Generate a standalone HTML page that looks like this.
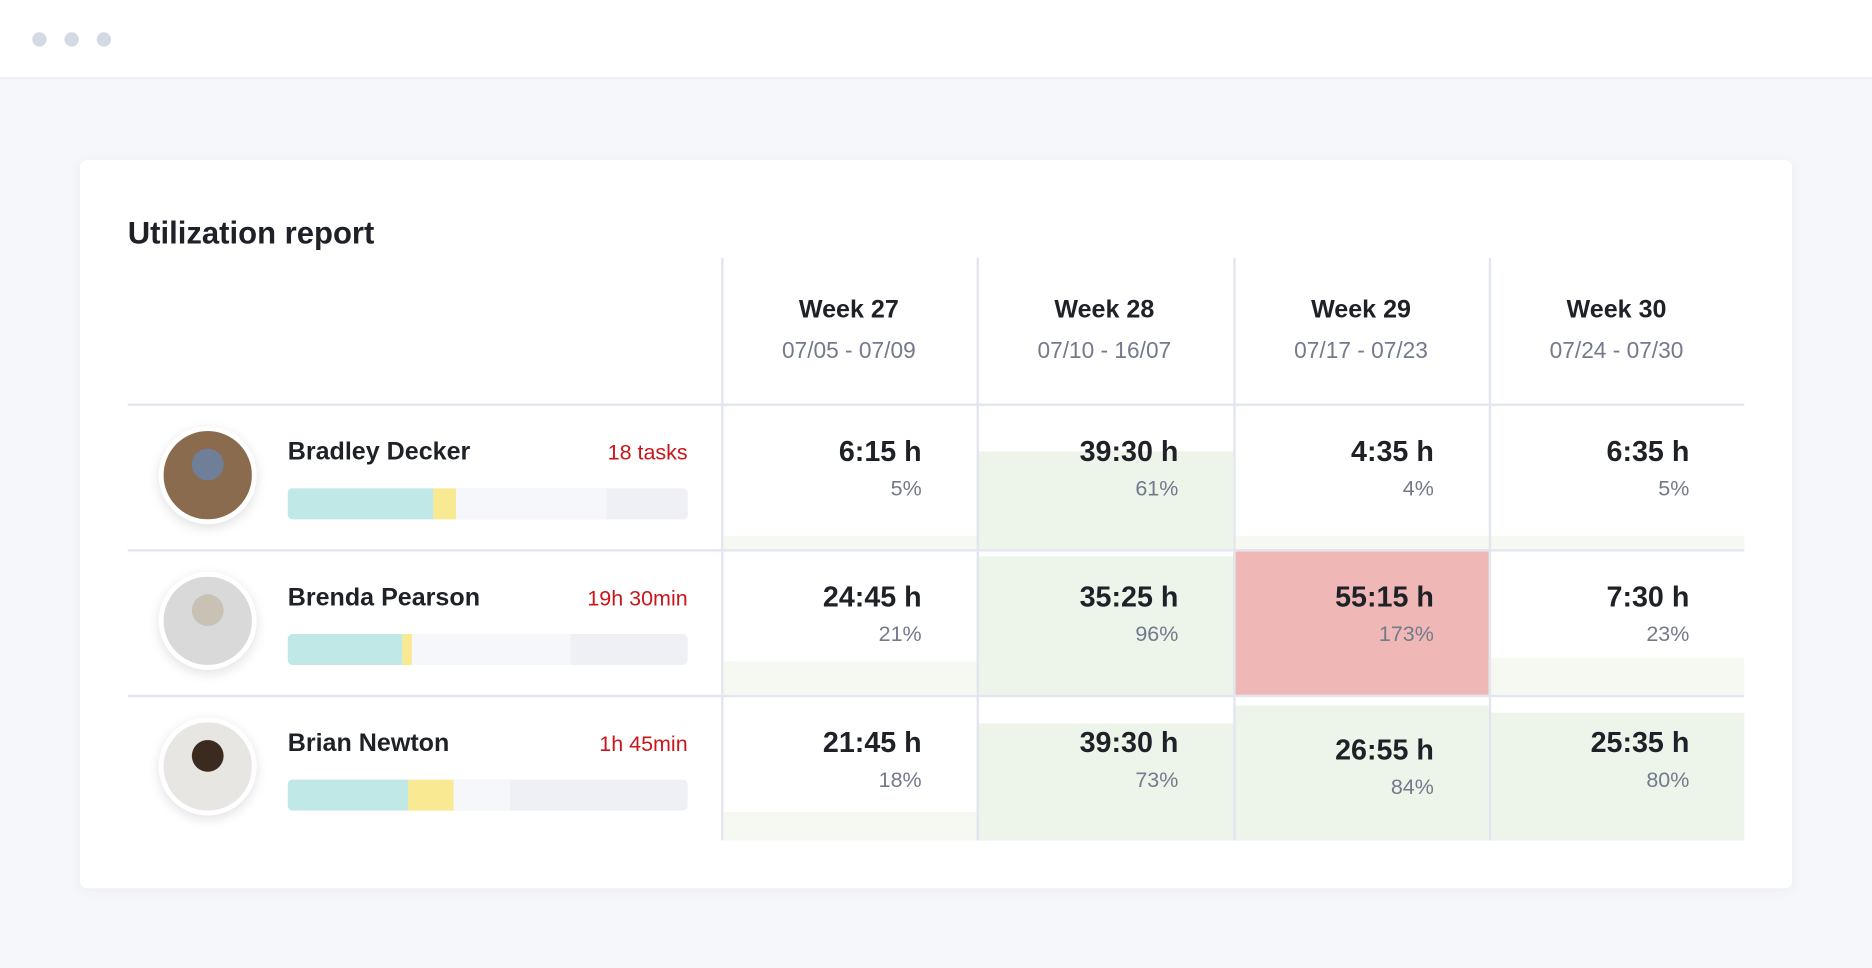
<!DOCTYPE html>
<html><head><meta charset="utf-8">
<style>
html,body{margin:0;padding:0;width:1872px;height:968px;overflow:hidden;background:#f6f7fb;font-family:"Liberation Sans",sans-serif;}
#stage{position:absolute;left:0;top:0;width:1568px;height:811px;transform-origin:0 0;transform:scale(1.19388);}
.abs{position:absolute;}
.topbar{left:0;top:0;width:1568px;height:65px;background:#fff;border-bottom:1.5px solid #e3e6ee;}
.dot{width:12px;height:12px;border-radius:50%;background:#d5d9e3;top:27px;}
.card{left:67px;top:134px;width:1434px;height:610px;background:#fff;border-radius:6px;box-shadow:0 2px 10px rgba(40,50,80,0.05);}
.title{left:107px;top:180px;font-size:26px;font-weight:bold;color:#1e2128;}
.vline{width:1.5px;background:#e3e6ee;}
.hline{height:1.5px;background:#e3e6ee;}
.wk{font-size:21px;font-weight:bold;color:#1e2128;text-align:center;width:214px;}
.dt{font-size:19px;color:#737a8c;text-align:center;width:214px;}
.name{font-size:21px;font-weight:bold;color:#1e2128;}
.extra{font-size:18px;color:#c8161b;text-align:right;width:200px;}
.hrs{font-size:24px;font-weight:bold;color:#1e2128;text-align:right;width:200px;}
.pct{font-size:18px;color:#737a8c;text-align:right;width:200px;}
.avatar{width:74px;height:74px;border-radius:50%;border:4px solid #fff;box-shadow:0 3px 10px rgba(0,0,0,0.12);overflow:hidden;}
</style></head>
<body>
<div id="stage">
  <div class="abs topbar"></div>
  <div class="abs dot" style="left:27px"></div>
  <div class="abs dot" style="left:54px"></div>
  <div class="abs dot" style="left:81px"></div>
  <div class="abs card"></div>
  <div class="abs title">Utilization report</div>
  <div id="table"></div>
</div>
<script>
const weeks = ["Week 27","Week 28","Week 29","Week 30"];
const dateRanges = ["07/05 - 07/09","07/10 - 16/07","07/17 - 07/23","07/24 - 07/30"];
const people = ["Bradley Decker","Brenda Pearson","Brian Newton"];
const extras = ["18 tasks","19h 30min","1h 45min"];
const hours = [["6:15 h","39:30 h","4:35 h","6:35 h"],["24:45 h","35:25 h","55:15 h","7:30 h"],["21:45 h","39:30 h","26:55 h","25:35 h"]];
const pcts = [[5,61,4,5],[21,96,173,23],[18,73,84,80]];
const tealFrac = [0.364,0.287,0.301];
const yellowFrac = [0.057,0.024,0.113];
const lightFrac = [0.376,0.397,0.140];
const avatarColors = [["#8a6b4e","#6f7f9a"],["#d9d9d9","#c9c1b3"],["#e8e6e3","#3a2a20"]];

const S = document.getElementById('stage');
const colX = [604,818,1033,1247,1461];
const rowY = [338,460,582,704];
function mk(cls, css, txt){const d=document.createElement('div');d.className='abs '+cls;Object.assign(d.style,css);if(txt!==undefined)d.textContent=txt;S.appendChild(d);return d;}

for(let r=0;r<people.length;r++){
  for(let c=0;c<weeks.length;c++){
    const p=pcts[r][c], h=rowY[r+1]-rowY[r];
    let fh, col;
    if(p>100){fh=h;col='#efb8b6';}
    else{fh=Math.min(h-6,Math.max(11,h*p/100*1.1));col=p<30?'#f5f9f2':'#edf4e9';}
    const f=mk('',{left:colX[c]+'px',top:(rowY[r+1]-fh)+'px',width:(colX[c+1]-colX[c])+'px',height:fh+'px',background:col});
    
    
  }
}
for(let i=0;i<rowY.length-1;i++){
  const l=mk('hline',{left:'107px',top:rowY[i]+'px',width:'1354px'});
  
  
}
for(let i=0;i<4;i++){
  const l=mk('vline',{left:colX[i]+'px',top:'216px',height:'488px'});
  
  
}
weeks.forEach((w,i)=>{
  const a=mk('wk',{left:colX[i]+'px',top:'248px'},w);
  
  
  const b=mk('dt',{left:colX[i]+'px',top:'284px'},dateRanges[i]);
  
  
});
people.forEach((n,r)=>{
  const y0=rowY[r];
  const av=mk('avatar',{left:'133px',top:(y0+19)+'px',background:'radial-gradient(circle at 50% 38%, '+avatarColors[r][1]+' 0 22%, '+avatarColors[r][0]+' 23% 100%)'});
  
  
  const nm=mk('name',{left:'241px',top:(y0+29)+'px'},n);
  
  
  const ex=mk('extra',{left:'376px',top:(y0+31)+'px'},extras[r]);
  
  
  const bw=335, bx=241, by=y0+71;
  const bar=mk('',{left:bx+'px',top:by+'px',width:bw+'px',height:'26px',background:'#eff0f5',borderRadius:'4px',overflow:'hidden'});
  
  
  const segs=[[tealFrac[r],'#c0e8e6','bar-scheduled'],[yellowFrac[r],'#f9e992','bar-overtime'],[lightFrac[r],'#f6f7fb','bar-available']];
  let x=0;
  segs.forEach(s=>{
    const d=document.createElement('div');
    Object.assign(d.style,{position:'absolute',left:(x*bw)+'px',top:'0',width:(s[0]*bw)+'px',height:'26px',background:s[1]});
    
    
    bar.appendChild(d);x+=s[0];
  });
  for(let c=0;c<weeks.length;c++){
    const off=(r===2&&c===2)?6:0;
    const h=mk('hrs',{left:(colX[c+1]-46-200)+'px',top:(y0+27+off)+'px'},hours[r][c]);
    
    
    const p=mk('pct',{left:(colX[c+1]-46-200)+'px',top:(y0+61+off)+'px'},pcts[r][c]+'%');
    
    
  }
});
</script>
</body></html>
